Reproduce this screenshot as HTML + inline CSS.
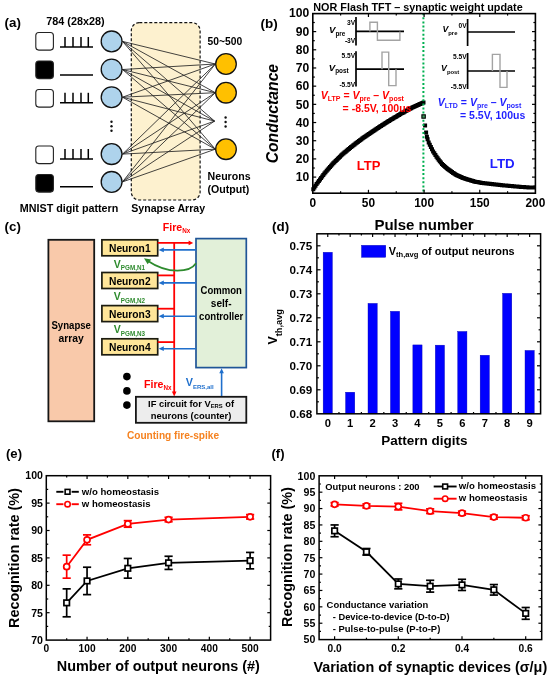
<!DOCTYPE html>
<html><head><meta charset="utf-8"><title>Figure</title>
<style>
html,body{margin:0;padding:0;background:#fff;}
svg{display:block;font-family:"Liberation Sans", "DejaVu Sans", sans-serif;}
</style></head>
<body>
<svg width="550" height="681" viewBox="0 0 550 681">
<rect x="0" y="0" width="550" height="681" fill="#fff"/>
<text x="4.60" y="26.90" font-size="13.4" text-anchor="start" font-weight="bold" font-style="normal" fill="#000" >(a)</text>
<text x="46.30" y="25.00" font-size="10.8" text-anchor="start" font-weight="bold" font-style="normal" fill="#000" >784 (28x28)</text>
<rect x="35.80" y="32.50" width="17.60" height="17.60" fill="#fff" stroke="#222" stroke-width="1.1" rx="3" />
<rect x="35.80" y="61.00" width="17.60" height="17.60" fill="#000" stroke="#222" stroke-width="1.1" rx="3" />
<rect x="35.80" y="89.50" width="17.60" height="17.60" fill="#fff" stroke="#222" stroke-width="1.1" rx="3" />
<rect x="35.80" y="146.00" width="17.60" height="17.60" fill="#fff" stroke="#222" stroke-width="1.1" rx="3" />
<rect x="35.80" y="174.50" width="17.60" height="17.60" fill="#000" stroke="#222" stroke-width="1.1" rx="3" />
<line x1="60.00" y1="47.00" x2="93.00" y2="47.00" stroke="#000" stroke-width="1.5" />
<line x1="65.00" y1="47.00" x2="65.00" y2="37.00" stroke="#000" stroke-width="1.5" />
<line x1="73.00" y1="47.00" x2="73.00" y2="37.00" stroke="#000" stroke-width="1.5" />
<line x1="81.00" y1="47.00" x2="81.00" y2="37.00" stroke="#000" stroke-width="1.5" />
<line x1="88.30" y1="47.00" x2="88.30" y2="37.00" stroke="#000" stroke-width="1.5" />
<line x1="60.00" y1="75.00" x2="93.00" y2="75.00" stroke="#000" stroke-width="1.5" />
<line x1="60.00" y1="102.80" x2="93.00" y2="102.80" stroke="#000" stroke-width="1.5" />
<line x1="65.00" y1="102.80" x2="65.00" y2="92.80" stroke="#000" stroke-width="1.5" />
<line x1="73.00" y1="102.80" x2="73.00" y2="92.80" stroke="#000" stroke-width="1.5" />
<line x1="81.00" y1="102.80" x2="81.00" y2="92.80" stroke="#000" stroke-width="1.5" />
<line x1="88.30" y1="102.80" x2="88.30" y2="92.80" stroke="#000" stroke-width="1.5" />
<line x1="60.00" y1="159.00" x2="93.00" y2="159.00" stroke="#000" stroke-width="1.5" />
<line x1="65.00" y1="159.00" x2="65.00" y2="149.00" stroke="#000" stroke-width="1.5" />
<line x1="73.00" y1="159.00" x2="73.00" y2="149.00" stroke="#000" stroke-width="1.5" />
<line x1="81.00" y1="159.00" x2="81.00" y2="149.00" stroke="#000" stroke-width="1.5" />
<line x1="88.30" y1="159.00" x2="88.30" y2="149.00" stroke="#000" stroke-width="1.5" />
<line x1="60.00" y1="186.80" x2="93.00" y2="186.80" stroke="#000" stroke-width="1.5" />
<rect x="131.30" y="22.70" width="68.80" height="177.30" fill="#FDF1CF" stroke="#111" stroke-width="1.2" rx="8" stroke-dasharray="3 2"/>
<line x1="122.50" y1="41.40" x2="215.30" y2="64.00" stroke="#222" stroke-width="0.85" />
<line x1="122.50" y1="41.40" x2="215.30" y2="92.70" stroke="#222" stroke-width="0.85" />
<line x1="122.50" y1="41.40" x2="214.60" y2="121.10" stroke="#222" stroke-width="0.85" />
<line x1="122.50" y1="41.40" x2="215.30" y2="149.20" stroke="#222" stroke-width="0.85" />
<line x1="122.50" y1="69.50" x2="215.30" y2="64.00" stroke="#222" stroke-width="0.85" />
<line x1="122.50" y1="69.50" x2="215.30" y2="92.70" stroke="#222" stroke-width="0.85" />
<line x1="122.50" y1="69.50" x2="214.60" y2="121.10" stroke="#222" stroke-width="0.85" />
<line x1="122.50" y1="69.50" x2="215.30" y2="149.20" stroke="#222" stroke-width="0.85" />
<line x1="122.50" y1="97.20" x2="215.30" y2="64.00" stroke="#222" stroke-width="0.85" />
<line x1="122.50" y1="97.20" x2="215.30" y2="92.70" stroke="#222" stroke-width="0.85" />
<line x1="122.50" y1="97.20" x2="214.60" y2="121.10" stroke="#222" stroke-width="0.85" />
<line x1="122.50" y1="97.20" x2="215.30" y2="149.20" stroke="#222" stroke-width="0.85" />
<line x1="122.50" y1="154.10" x2="215.30" y2="64.00" stroke="#222" stroke-width="0.85" />
<line x1="122.50" y1="154.10" x2="215.30" y2="92.70" stroke="#222" stroke-width="0.85" />
<line x1="122.50" y1="154.10" x2="214.60" y2="121.10" stroke="#222" stroke-width="0.85" />
<line x1="122.50" y1="154.10" x2="215.30" y2="149.20" stroke="#222" stroke-width="0.85" />
<line x1="122.50" y1="181.90" x2="215.30" y2="64.00" stroke="#222" stroke-width="0.85" />
<line x1="122.50" y1="181.90" x2="215.30" y2="92.70" stroke="#222" stroke-width="0.85" />
<line x1="122.50" y1="181.90" x2="214.60" y2="121.10" stroke="#222" stroke-width="0.85" />
<line x1="122.50" y1="181.90" x2="215.30" y2="149.20" stroke="#222" stroke-width="0.85" />
<circle cx="111.60" cy="41.40" r="10.40" fill="#AED3EC" stroke="#111" stroke-width="1.3"/>
<circle cx="111.60" cy="69.50" r="10.40" fill="#AED3EC" stroke="#111" stroke-width="1.3"/>
<circle cx="111.60" cy="97.20" r="10.40" fill="#AED3EC" stroke="#111" stroke-width="1.3"/>
<circle cx="111.60" cy="154.10" r="10.40" fill="#AED3EC" stroke="#111" stroke-width="1.3"/>
<circle cx="111.60" cy="181.90" r="10.40" fill="#AED3EC" stroke="#111" stroke-width="1.3"/>
<circle cx="226.00" cy="64.00" r="10.30" fill="#FFC000" stroke="#111" stroke-width="1.3"/>
<circle cx="226.00" cy="92.70" r="10.30" fill="#FFC000" stroke="#111" stroke-width="1.3"/>
<circle cx="226.00" cy="149.20" r="10.30" fill="#FFC000" stroke="#111" stroke-width="1.3"/>
<circle cx="111.50" cy="121.70" r="1.20" fill="#111" stroke="none" stroke-width="1"/>
<circle cx="111.50" cy="126.20" r="1.20" fill="#111" stroke="none" stroke-width="1"/>
<circle cx="111.50" cy="130.70" r="1.20" fill="#111" stroke="none" stroke-width="1"/>
<circle cx="225.60" cy="117.50" r="1.20" fill="#111" stroke="none" stroke-width="1"/>
<circle cx="225.60" cy="122.00" r="1.20" fill="#111" stroke="none" stroke-width="1"/>
<circle cx="225.60" cy="126.50" r="1.20" fill="#111" stroke="none" stroke-width="1"/>
<text x="207.50" y="44.50" font-size="10.3" text-anchor="start" font-weight="bold" font-style="normal" fill="#000" >50~500</text>
<text x="207.60" y="179.60" font-size="10.6" text-anchor="start" font-weight="bold" font-style="normal" fill="#000" >Neurons</text>
<text x="207.60" y="193.20" font-size="10.6" text-anchor="start" font-weight="bold" font-style="normal" fill="#000" >(Output)</text>
<text x="19.80" y="212.30" font-size="10.75" text-anchor="start" font-weight="bold" font-style="normal" fill="#000" >MNIST digit pattern</text>
<text x="131.30" y="212.30" font-size="10.6" text-anchor="start" font-weight="bold" font-style="normal" fill="#000" >Synapse Array</text>
<text x="260.50" y="27.70" font-size="13.5" text-anchor="start" font-weight="bold" font-style="normal" fill="#000" >(b)</text>
<text x="313.30" y="10.70" font-size="10.8" text-anchor="start" font-weight="bold" font-style="normal" fill="#000" >NOR Flash TFT – synaptic weight update</text>
<text transform="translate(278.4,113.6) rotate(-90)" font-size="15.7" text-anchor="middle" font-weight="bold" font-style="italic">Conductance</text>
<text x="309.30" y="181.40" font-size="12.1" text-anchor="end" font-weight="bold" font-style="normal" fill="#000" >10</text>
<text x="309.30" y="163.21" font-size="12.1" text-anchor="end" font-weight="bold" font-style="normal" fill="#000" >20</text>
<text x="309.30" y="145.03" font-size="12.1" text-anchor="end" font-weight="bold" font-style="normal" fill="#000" >30</text>
<text x="309.30" y="126.84" font-size="12.1" text-anchor="end" font-weight="bold" font-style="normal" fill="#000" >40</text>
<text x="309.30" y="108.65" font-size="12.1" text-anchor="end" font-weight="bold" font-style="normal" fill="#000" >50</text>
<text x="309.30" y="90.46" font-size="12.1" text-anchor="end" font-weight="bold" font-style="normal" fill="#000" >60</text>
<text x="309.30" y="72.27" font-size="12.1" text-anchor="end" font-weight="bold" font-style="normal" fill="#000" >70</text>
<text x="309.30" y="54.09" font-size="12.1" text-anchor="end" font-weight="bold" font-style="normal" fill="#000" >80</text>
<text x="309.30" y="35.90" font-size="12.1" text-anchor="end" font-weight="bold" font-style="normal" fill="#000" >90</text>
<text x="309.30" y="16.71" font-size="12.1" text-anchor="end" font-weight="bold" font-style="normal" fill="#000" >100</text>
<text x="312.80" y="206.60" font-size="11.9" text-anchor="middle" font-weight="bold" font-style="normal" fill="#000" >0</text>
<text x="368.45" y="206.60" font-size="11.9" text-anchor="middle" font-weight="bold" font-style="normal" fill="#000" >50</text>
<text x="424.10" y="206.60" font-size="11.9" text-anchor="middle" font-weight="bold" font-style="normal" fill="#000" >100</text>
<text x="479.75" y="206.60" font-size="11.9" text-anchor="middle" font-weight="bold" font-style="normal" fill="#000" >150</text>
<text x="535.40" y="206.60" font-size="11.9" text-anchor="middle" font-weight="bold" font-style="normal" fill="#000" >200</text>
<text x="424.00" y="229.80" font-size="15" text-anchor="middle" font-weight="bold" font-style="normal" fill="#000" >Pulse number</text>
<path d="M311.3,187.2h4.0v4.0h-4.0zM312.4,185.5h4.0v4.0h-4.0zM313.5,183.8h4.0v4.0h-4.0zM314.6,182.1h4.0v4.0h-4.0zM315.8,180.5h4.0v4.0h-4.0zM316.9,178.9h4.0v4.0h-4.0zM318.0,177.4h4.0v4.0h-4.0zM319.1,175.9h4.0v4.0h-4.0zM320.2,174.4h4.0v4.0h-4.0zM321.3,173.0h4.0v4.0h-4.0zM322.4,171.6h4.0v4.0h-4.0zM323.5,170.2h4.0v4.0h-4.0zM324.7,168.8h4.0v4.0h-4.0zM325.8,167.5h4.0v4.0h-4.0zM326.9,166.2h4.0v4.0h-4.0zM328.0,165.0h4.0v4.0h-4.0zM329.1,163.7h4.0v4.0h-4.0zM330.2,162.5h4.0v4.0h-4.0zM331.3,161.3h4.0v4.0h-4.0zM332.4,160.2h4.0v4.0h-4.0zM333.6,159.0h4.0v4.0h-4.0zM334.7,157.9h4.0v4.0h-4.0zM335.8,156.8h4.0v4.0h-4.0zM336.9,155.7h4.0v4.0h-4.0zM338.0,154.7h4.0v4.0h-4.0zM339.1,153.6h4.0v4.0h-4.0zM340.2,152.6h4.0v4.0h-4.0zM341.4,151.6h4.0v4.0h-4.0zM342.5,150.6h4.0v4.0h-4.0zM343.6,149.7h4.0v4.0h-4.0zM344.7,148.7h4.0v4.0h-4.0zM345.8,147.8h4.0v4.0h-4.0zM346.9,146.9h4.0v4.0h-4.0zM348.0,145.9h4.0v4.0h-4.0zM349.1,145.0h4.0v4.0h-4.0zM350.3,144.2h4.0v4.0h-4.0zM351.4,143.3h4.0v4.0h-4.0zM352.5,142.4h4.0v4.0h-4.0zM353.6,141.6h4.0v4.0h-4.0zM354.7,140.7h4.0v4.0h-4.0zM355.8,139.9h4.0v4.0h-4.0zM356.9,139.1h4.0v4.0h-4.0zM358.0,138.2h4.0v4.0h-4.0zM359.2,137.4h4.0v4.0h-4.0zM360.3,136.6h4.0v4.0h-4.0zM361.4,135.8h4.0v4.0h-4.0zM362.5,135.0h4.0v4.0h-4.0zM363.6,134.3h4.0v4.0h-4.0zM364.7,133.5h4.0v4.0h-4.0zM365.8,132.7h4.0v4.0h-4.0zM366.9,131.9h4.0v4.0h-4.0zM368.1,131.2h4.0v4.0h-4.0zM369.2,130.4h4.0v4.0h-4.0zM370.3,129.7h4.0v4.0h-4.0zM371.4,128.9h4.0v4.0h-4.0zM372.5,128.2h4.0v4.0h-4.0zM373.6,127.5h4.0v4.0h-4.0zM374.7,126.7h4.0v4.0h-4.0zM375.9,126.0h4.0v4.0h-4.0zM377.0,125.3h4.0v4.0h-4.0zM378.1,124.6h4.0v4.0h-4.0zM379.2,123.9h4.0v4.0h-4.0zM380.3,123.1h4.0v4.0h-4.0zM381.4,122.4h4.0v4.0h-4.0zM382.5,121.7h4.0v4.0h-4.0zM383.6,121.0h4.0v4.0h-4.0zM384.8,120.3h4.0v4.0h-4.0zM385.9,119.6h4.0v4.0h-4.0zM387.0,118.9h4.0v4.0h-4.0zM388.1,118.3h4.0v4.0h-4.0zM389.2,117.6h4.0v4.0h-4.0zM390.3,116.9h4.0v4.0h-4.0zM391.4,116.2h4.0v4.0h-4.0zM392.5,115.6h4.0v4.0h-4.0zM393.7,114.9h4.0v4.0h-4.0zM394.8,114.2h4.0v4.0h-4.0zM395.9,113.6h4.0v4.0h-4.0zM397.0,112.9h4.0v4.0h-4.0zM398.1,112.3h4.0v4.0h-4.0zM399.2,111.6h4.0v4.0h-4.0zM400.3,111.0h4.0v4.0h-4.0zM401.5,110.4h4.0v4.0h-4.0zM402.6,109.8h4.0v4.0h-4.0zM403.7,109.1h4.0v4.0h-4.0zM404.8,108.5h4.0v4.0h-4.0zM405.9,107.9h4.0v4.0h-4.0zM407.0,107.3h4.0v4.0h-4.0zM408.1,106.8h4.0v4.0h-4.0zM409.2,106.2h4.0v4.0h-4.0zM410.4,105.6h4.0v4.0h-4.0zM411.5,105.1h4.0v4.0h-4.0zM412.6,104.5h4.0v4.0h-4.0zM413.7,104.0h4.0v4.0h-4.0zM414.8,103.5h4.0v4.0h-4.0zM415.9,103.0h4.0v4.0h-4.0zM417.0,102.5h4.0v4.0h-4.0zM418.1,102.0h4.0v4.0h-4.0zM419.3,101.5h4.0v4.0h-4.0zM420.4,101.1h4.0v4.0h-4.0zM421.5,100.6h4.0v4.0h-4.0zM423.1,123.6h4.0v4.0h-4.0zM424.1,130.5h4.0v4.0h-4.0zM424.9,134.7h4.0v4.0h-4.0zM425.6,137.3h4.0v4.0h-4.0zM426.7,140.4h4.0v4.0h-4.0zM427.8,142.8h4.0v4.0h-4.0zM428.9,145.0h4.0v4.0h-4.0zM430.0,147.3h4.0v4.0h-4.0zM431.1,149.4h4.0v4.0h-4.0zM432.3,151.3h4.0v4.0h-4.0zM433.4,153.1h4.0v4.0h-4.0zM434.5,154.7h4.0v4.0h-4.0zM435.6,156.3h4.0v4.0h-4.0zM436.7,157.8h4.0v4.0h-4.0zM437.8,159.2h4.0v4.0h-4.0zM438.9,160.6h4.0v4.0h-4.0zM440.0,161.9h4.0v4.0h-4.0zM441.1,163.0h4.0v4.0h-4.0zM442.2,164.1h4.0v4.0h-4.0zM443.3,165.1h4.0v4.0h-4.0zM444.5,166.0h4.0v4.0h-4.0zM445.6,166.9h4.0v4.0h-4.0zM446.7,167.7h4.0v4.0h-4.0zM447.8,168.5h4.0v4.0h-4.0zM448.9,169.3h4.0v4.0h-4.0zM450.0,170.1h4.0v4.0h-4.0zM451.1,170.9h4.0v4.0h-4.0zM452.2,171.6h4.0v4.0h-4.0zM453.3,172.3h4.0v4.0h-4.0zM454.4,172.9h4.0v4.0h-4.0zM455.5,173.5h4.0v4.0h-4.0zM456.7,174.0h4.0v4.0h-4.0zM457.8,174.6h4.0v4.0h-4.0zM458.9,175.1h4.0v4.0h-4.0zM460.0,175.5h4.0v4.0h-4.0zM461.1,175.9h4.0v4.0h-4.0zM462.2,176.3h4.0v4.0h-4.0zM463.3,176.7h4.0v4.0h-4.0zM464.4,177.0h4.0v4.0h-4.0zM465.5,177.4h4.0v4.0h-4.0zM466.6,177.7h4.0v4.0h-4.0zM467.7,178.1h4.0v4.0h-4.0zM468.9,178.5h4.0v4.0h-4.0zM470.0,178.8h4.0v4.0h-4.0zM471.1,179.1h4.0v4.0h-4.0zM472.2,179.4h4.0v4.0h-4.0zM473.3,179.7h4.0v4.0h-4.0zM474.4,179.9h4.0v4.0h-4.0zM475.5,180.1h4.0v4.0h-4.0zM476.6,180.3h4.0v4.0h-4.0zM477.7,180.5h4.0v4.0h-4.0zM478.8,180.7h4.0v4.0h-4.0zM479.9,180.9h4.0v4.0h-4.0zM481.0,181.0h4.0v4.0h-4.0zM482.2,181.2h4.0v4.0h-4.0zM483.3,181.3h4.0v4.0h-4.0zM484.4,181.4h4.0v4.0h-4.0zM485.5,181.6h4.0v4.0h-4.0zM486.6,181.7h4.0v4.0h-4.0zM487.7,181.8h4.0v4.0h-4.0zM488.8,182.0h4.0v4.0h-4.0zM489.9,182.1h4.0v4.0h-4.0zM491.0,182.2h4.0v4.0h-4.0zM492.1,182.3h4.0v4.0h-4.0zM493.2,182.5h4.0v4.0h-4.0zM494.4,182.6h4.0v4.0h-4.0zM495.5,182.7h4.0v4.0h-4.0zM496.6,182.8h4.0v4.0h-4.0zM497.7,183.0h4.0v4.0h-4.0zM498.8,183.1h4.0v4.0h-4.0zM499.9,183.2h4.0v4.0h-4.0zM501.0,183.3h4.0v4.0h-4.0zM502.1,183.4h4.0v4.0h-4.0zM503.2,183.5h4.0v4.0h-4.0zM504.3,183.6h4.0v4.0h-4.0zM505.4,183.7h4.0v4.0h-4.0zM506.6,183.8h4.0v4.0h-4.0zM507.7,184.0h4.0v4.0h-4.0zM508.8,184.1h4.0v4.0h-4.0zM509.9,184.1h4.0v4.0h-4.0zM511.0,184.2h4.0v4.0h-4.0zM512.1,184.3h4.0v4.0h-4.0zM513.2,184.4h4.0v4.0h-4.0zM514.3,184.5h4.0v4.0h-4.0zM515.4,184.6h4.0v4.0h-4.0zM516.5,184.7h4.0v4.0h-4.0zM517.6,184.8h4.0v4.0h-4.0zM518.8,184.9h4.0v4.0h-4.0zM519.9,184.9h4.0v4.0h-4.0zM521.0,185.0h4.0v4.0h-4.0zM522.1,185.1h4.0v4.0h-4.0zM523.2,185.2h4.0v4.0h-4.0zM524.3,185.2h4.0v4.0h-4.0zM525.4,185.3h4.0v4.0h-4.0zM526.5,185.4h4.0v4.0h-4.0zM527.6,185.4h4.0v4.0h-4.0zM528.7,185.5h4.0v4.0h-4.0zM529.8,185.6h4.0v4.0h-4.0zM531.0,185.6h4.0v4.0h-4.0z" fill="#000" stroke="none" stroke-width="1" />
<line x1="423.40" y1="13.60" x2="423.40" y2="193.00" stroke="#00B050" stroke-width="2" stroke-dasharray="2 2.1" stroke-dashoffset="0.4"/>
<rect x="421.90" y="114.80" width="3.40" height="3.40" fill="#3c9a5c" stroke="#000" stroke-width="1.1" rx="0" />
<rect x="312.80" y="13.60" width="222.60" height="179.60" fill="none" stroke="#000" stroke-width="1.6" rx="0" />
<line x1="368.45" y1="193.20" x2="368.45" y2="189.80" stroke="#000" stroke-width="1.2" />
<line x1="368.45" y1="13.60" x2="368.45" y2="17.00" stroke="#000" stroke-width="1.2" />
<line x1="424.10" y1="193.20" x2="424.10" y2="189.80" stroke="#000" stroke-width="1.2" />
<line x1="424.10" y1="13.60" x2="424.10" y2="17.00" stroke="#000" stroke-width="1.2" />
<line x1="479.75" y1="193.20" x2="479.75" y2="189.80" stroke="#000" stroke-width="1.2" />
<line x1="479.75" y1="13.60" x2="479.75" y2="17.00" stroke="#000" stroke-width="1.2" />
<line x1="340.62" y1="193.20" x2="340.62" y2="191.20" stroke="#000" stroke-width="1.2" />
<line x1="340.62" y1="13.60" x2="340.62" y2="15.60" stroke="#000" stroke-width="1.2" />
<line x1="396.27" y1="193.20" x2="396.27" y2="191.20" stroke="#000" stroke-width="1.2" />
<line x1="396.27" y1="13.60" x2="396.27" y2="15.60" stroke="#000" stroke-width="1.2" />
<line x1="451.92" y1="193.20" x2="451.92" y2="191.20" stroke="#000" stroke-width="1.2" />
<line x1="451.92" y1="13.60" x2="451.92" y2="15.60" stroke="#000" stroke-width="1.2" />
<line x1="507.57" y1="193.20" x2="507.57" y2="191.20" stroke="#000" stroke-width="1.2" />
<line x1="507.57" y1="13.60" x2="507.57" y2="15.60" stroke="#000" stroke-width="1.2" />
<line x1="312.80" y1="177.10" x2="316.20" y2="177.10" stroke="#000" stroke-width="1.2" />
<line x1="535.40" y1="177.10" x2="532.00" y2="177.10" stroke="#000" stroke-width="1.2" />
<line x1="312.80" y1="158.91" x2="316.20" y2="158.91" stroke="#000" stroke-width="1.2" />
<line x1="535.40" y1="158.91" x2="532.00" y2="158.91" stroke="#000" stroke-width="1.2" />
<line x1="312.80" y1="140.72" x2="316.20" y2="140.72" stroke="#000" stroke-width="1.2" />
<line x1="535.40" y1="140.72" x2="532.00" y2="140.72" stroke="#000" stroke-width="1.2" />
<line x1="312.80" y1="122.54" x2="316.20" y2="122.54" stroke="#000" stroke-width="1.2" />
<line x1="535.40" y1="122.54" x2="532.00" y2="122.54" stroke="#000" stroke-width="1.2" />
<line x1="312.80" y1="104.35" x2="316.20" y2="104.35" stroke="#000" stroke-width="1.2" />
<line x1="535.40" y1="104.35" x2="532.00" y2="104.35" stroke="#000" stroke-width="1.2" />
<line x1="312.80" y1="86.16" x2="316.20" y2="86.16" stroke="#000" stroke-width="1.2" />
<line x1="535.40" y1="86.16" x2="532.00" y2="86.16" stroke="#000" stroke-width="1.2" />
<line x1="312.80" y1="67.97" x2="316.20" y2="67.97" stroke="#000" stroke-width="1.2" />
<line x1="535.40" y1="67.97" x2="532.00" y2="67.97" stroke="#000" stroke-width="1.2" />
<line x1="312.80" y1="49.79" x2="316.20" y2="49.79" stroke="#000" stroke-width="1.2" />
<line x1="535.40" y1="49.79" x2="532.00" y2="49.79" stroke="#000" stroke-width="1.2" />
<line x1="312.80" y1="31.60" x2="316.20" y2="31.60" stroke="#000" stroke-width="1.2" />
<line x1="535.40" y1="31.60" x2="532.00" y2="31.60" stroke="#000" stroke-width="1.2" />
<line x1="312.80" y1="186.19" x2="314.80" y2="186.19" stroke="#000" stroke-width="1.2" />
<line x1="535.40" y1="186.19" x2="533.40" y2="186.19" stroke="#000" stroke-width="1.2" />
<line x1="312.80" y1="168.01" x2="314.80" y2="168.01" stroke="#000" stroke-width="1.2" />
<line x1="535.40" y1="168.01" x2="533.40" y2="168.01" stroke="#000" stroke-width="1.2" />
<line x1="312.80" y1="149.82" x2="314.80" y2="149.82" stroke="#000" stroke-width="1.2" />
<line x1="535.40" y1="149.82" x2="533.40" y2="149.82" stroke="#000" stroke-width="1.2" />
<line x1="312.80" y1="131.63" x2="314.80" y2="131.63" stroke="#000" stroke-width="1.2" />
<line x1="535.40" y1="131.63" x2="533.40" y2="131.63" stroke="#000" stroke-width="1.2" />
<line x1="312.80" y1="113.44" x2="314.80" y2="113.44" stroke="#000" stroke-width="1.2" />
<line x1="535.40" y1="113.44" x2="533.40" y2="113.44" stroke="#000" stroke-width="1.2" />
<line x1="312.80" y1="95.26" x2="314.80" y2="95.26" stroke="#000" stroke-width="1.2" />
<line x1="535.40" y1="95.26" x2="533.40" y2="95.26" stroke="#000" stroke-width="1.2" />
<line x1="312.80" y1="77.07" x2="314.80" y2="77.07" stroke="#000" stroke-width="1.2" />
<line x1="535.40" y1="77.07" x2="533.40" y2="77.07" stroke="#000" stroke-width="1.2" />
<line x1="312.80" y1="58.88" x2="314.80" y2="58.88" stroke="#000" stroke-width="1.2" />
<line x1="535.40" y1="58.88" x2="533.40" y2="58.88" stroke="#000" stroke-width="1.2" />
<line x1="312.80" y1="40.69" x2="314.80" y2="40.69" stroke="#000" stroke-width="1.2" />
<line x1="535.40" y1="40.69" x2="533.40" y2="40.69" stroke="#000" stroke-width="1.2" />
<line x1="312.80" y1="22.51" x2="314.80" y2="22.51" stroke="#000" stroke-width="1.2" />
<line x1="535.40" y1="22.51" x2="533.40" y2="22.51" stroke="#000" stroke-width="1.2" />
<line x1="356.00" y1="17.00" x2="356.00" y2="45.50" stroke="#000" stroke-width="1.7" />
<line x1="356.00" y1="31.40" x2="404.00" y2="31.40" stroke="#000" stroke-width="1.7" />
<path d="M369.9,31.4 V22.3 H377.4 V40.2 H399.9 V31.4" fill="none" stroke="#a3a3a3" stroke-width="1.4" />
<text x="355.20" y="25.20" font-size="6.6" text-anchor="end" font-weight="bold" font-style="normal" fill="#000" >3V</text>
<text x="355.20" y="43.00" font-size="6.6" text-anchor="end" font-weight="bold" font-style="normal" fill="#000" >-3V</text>
<text x="329" y="33" font-size="9.6" font-weight="bold"><tspan font-style="italic">V</tspan><tspan font-size="6.4" dy="2.5">pre</tspan></text>
<line x1="356.00" y1="51.30" x2="356.00" y2="86.60" stroke="#000" stroke-width="1.7" />
<line x1="356.00" y1="69.20" x2="404.00" y2="69.20" stroke="#000" stroke-width="1.7" />
<path d="M382,69.2 V52.1 H388.7 V85.6 H396 V69.2" fill="none" stroke="#a3a3a3" stroke-width="1.4" />
<text x="355.20" y="57.60" font-size="6.6" text-anchor="end" font-weight="bold" font-style="normal" fill="#000" >5.5V</text>
<text x="355.20" y="87.20" font-size="6.6" text-anchor="end" font-weight="bold" font-style="normal" fill="#000" >-5.5V</text>
<text x="328.8" y="70.7" font-size="9.6" font-weight="bold"><tspan font-style="italic">V</tspan><tspan font-size="6.4" dy="2.5">post</tspan></text>
<line x1="467.60" y1="19.00" x2="467.60" y2="46.00" stroke="#000" stroke-width="1.7" />
<line x1="467.60" y1="32.00" x2="515.00" y2="32.00" stroke="#000" stroke-width="1.7" />
<text x="466.60" y="28.20" font-size="6.6" text-anchor="end" font-weight="bold" font-style="normal" fill="#000" >0V</text>
<text x="442.4" y="32" font-size="8.8" font-weight="bold"><tspan font-style="italic">V</tspan><tspan font-size="5.9" dy="2.5">pre</tspan></text>
<line x1="467.60" y1="53.00" x2="467.60" y2="89.00" stroke="#000" stroke-width="1.7" />
<line x1="467.60" y1="71.00" x2="515.00" y2="71.00" stroke="#000" stroke-width="1.7" />
<path d="M492.4,71 V54.4 H500 V87.4 H507 V71" fill="none" stroke="#a3a3a3" stroke-width="1.4" />
<text x="466.60" y="58.50" font-size="6.6" text-anchor="end" font-weight="bold" font-style="normal" fill="#000" >5.5V</text>
<text x="466.60" y="88.70" font-size="6.6" text-anchor="end" font-weight="bold" font-style="normal" fill="#000" >-5.5V</text>
<text x="441" y="71" font-size="8.8" font-weight="bold"><tspan font-style="italic">V</tspan><tspan font-size="5.9" dy="2.5">post</tspan></text>
<text x="320.8" y="99.2" font-size="10.5" font-weight="bold" fill="#FF0000"><tspan font-style="italic">V</tspan><tspan font-size="7" dy="2">LTP</tspan><tspan dy="-2"> = </tspan><tspan font-style="italic">V</tspan><tspan font-size="7" dy="2">pre</tspan><tspan dy="-2"> – </tspan><tspan font-style="italic">V</tspan><tspan font-size="7" dy="2">post</tspan></text>
<text x="342.60" y="112.20" font-size="10.5" text-anchor="start" font-weight="bold" font-style="normal" fill="#FF0000" >= -8.5V, 100us</text>
<text x="437.8" y="106.2" font-size="10.5" font-weight="bold" fill="#1F1FFF"><tspan font-style="italic">V</tspan><tspan font-size="7" dy="2">LTD</tspan><tspan dy="-2"> = </tspan><tspan font-style="italic">V</tspan><tspan font-size="7" dy="2">pre</tspan><tspan dy="-2"> – </tspan><tspan font-style="italic">V</tspan><tspan font-size="7" dy="2">post</tspan></text>
<text x="460.00" y="119.00" font-size="10.5" text-anchor="start" font-weight="bold" font-style="normal" fill="#1F1FFF" >= 5.5V, 100us</text>
<text x="356.80" y="169.70" font-size="13" text-anchor="start" font-weight="bold" font-style="normal" fill="#FF0000" >LTP</text>
<text x="489.80" y="167.50" font-size="13.3" text-anchor="start" font-weight="bold" font-style="normal" fill="#1F1FFF" >LTD</text>
<text x="4.60" y="231.40" font-size="13.3" text-anchor="start" font-weight="bold" font-style="normal" fill="#000" >(c)</text>
<rect x="48.40" y="239.80" width="45.80" height="181.50" fill="#F9C9AA" stroke="#161616" stroke-width="1.8" rx="0" />
<text x="71.20" y="328.60" font-size="10.8" text-anchor="middle" font-weight="bold" font-style="normal" fill="#000" textLength="39.5" lengthAdjust="spacingAndGlyphs">Synapse</text>
<text x="71.20" y="342.20" font-size="10.8" text-anchor="middle" font-weight="bold" font-style="normal" fill="#000" textLength="25.3" lengthAdjust="spacingAndGlyphs">array</text>
<rect x="101.90" y="239.80" width="55.80" height="16.00" fill="#FFE699" stroke="#1c1c10" stroke-width="1.7" rx="0" />
<text x="129.80" y="252.20" font-size="10.1" text-anchor="middle" font-weight="bold" font-style="normal" fill="#000" textLength="41.6" lengthAdjust="spacingAndGlyphs">Neuron1</text>
<rect x="101.90" y="272.50" width="55.80" height="16.00" fill="#FFE699" stroke="#1c1c10" stroke-width="1.7" rx="0" />
<text x="129.80" y="284.90" font-size="10.1" text-anchor="middle" font-weight="bold" font-style="normal" fill="#000" textLength="41.6" lengthAdjust="spacingAndGlyphs">Neuron2</text>
<rect x="101.90" y="305.60" width="55.80" height="16.00" fill="#FFE699" stroke="#1c1c10" stroke-width="1.7" rx="0" />
<text x="129.80" y="318.00" font-size="10.1" text-anchor="middle" font-weight="bold" font-style="normal" fill="#000" textLength="41.6" lengthAdjust="spacingAndGlyphs">Neuron3</text>
<rect x="101.90" y="338.80" width="55.80" height="16.00" fill="#FFE699" stroke="#1c1c10" stroke-width="1.7" rx="0" />
<text x="129.80" y="351.20" font-size="10.1" text-anchor="middle" font-weight="bold" font-style="normal" fill="#000" textLength="41.6" lengthAdjust="spacingAndGlyphs">Neuron4</text>
<text x="113.8" y="267.6" font-size="10.5" font-weight="bold" fill="#2E8B2E">V<tspan font-size="6.3" dy="2.3">PGM,N1</tspan></text>
<text x="113.8" y="300.3" font-size="10.5" font-weight="bold" fill="#2E8B2E">V<tspan font-size="6.3" dy="2.3">PGM,N2</tspan></text>
<text x="113.8" y="333.2" font-size="10.5" font-weight="bold" fill="#2E8B2E">V<tspan font-size="6.3" dy="2.3">PGM,N3</tspan></text>
<rect x="196.00" y="238.60" width="50.30" height="129.00" fill="#E2F0D9" stroke="#1F5597" stroke-width="1.7" rx="0" />
<text x="221.20" y="294.10" font-size="10.1" text-anchor="middle" font-weight="bold" font-style="normal" fill="#000" textLength="41.4" lengthAdjust="spacingAndGlyphs">Common</text>
<text x="221.20" y="307.10" font-size="10.1" text-anchor="middle" font-weight="bold" font-style="normal" fill="#000" textLength="20.8" lengthAdjust="spacingAndGlyphs">self-</text>
<text x="221.20" y="319.60" font-size="10.1" text-anchor="middle" font-weight="bold" font-style="normal" fill="#000" textLength="44.2" lengthAdjust="spacingAndGlyphs">controller</text>
<line x1="157.70" y1="242.90" x2="189.50" y2="242.90" stroke="#FF0000" stroke-width="1.8" />
<path d="M193.2,242.9 L188.6,240.6 L188.6,245.2 Z" fill="#FF0000" stroke="none" stroke-width="1" />
<line x1="174.20" y1="242.00" x2="174.20" y2="392.50" stroke="#FF0000" stroke-width="1.8" />
<path d="M174.2,396.6 L171.9,391.6 L176.5,391.6 Z" fill="#FF0000" stroke="none" stroke-width="1" />
<line x1="157.70" y1="275.40" x2="174.20" y2="275.40" stroke="#FF0000" stroke-width="1.8" />
<line x1="157.70" y1="308.70" x2="174.20" y2="308.70" stroke="#FF0000" stroke-width="1.8" />
<line x1="157.70" y1="342.10" x2="174.20" y2="342.10" stroke="#FF0000" stroke-width="1.8" />
<line x1="162.50" y1="249.90" x2="196.00" y2="249.90" stroke="#1F6FCC" stroke-width="1.6" />
<path d="M158.6,249.9 L163.8,247.5 L163.8,252.3 Z" fill="#1F6FCC" stroke="none" stroke-width="1" />
<line x1="162.50" y1="282.90" x2="196.00" y2="282.90" stroke="#1F6FCC" stroke-width="1.6" />
<path d="M158.6,282.9 L163.8,280.5 L163.8,285.29999999999995 Z" fill="#1F6FCC" stroke="none" stroke-width="1" />
<line x1="162.50" y1="316.20" x2="196.00" y2="316.20" stroke="#1F6FCC" stroke-width="1.6" />
<path d="M158.6,316.2 L163.8,313.8 L163.8,318.59999999999997 Z" fill="#1F6FCC" stroke="none" stroke-width="1" />
<line x1="162.50" y1="348.70" x2="196.00" y2="348.70" stroke="#1F6FCC" stroke-width="1.6" />
<path d="M158.6,348.7 L163.8,346.3 L163.8,351.09999999999997 Z" fill="#1F6FCC" stroke="none" stroke-width="1" />
<path d="M196,263.2 C190,272.5 168,274.5 148,261" fill="none" stroke="#2E8B2E" stroke-width="1.7" />
<path d="M144,258.3 L151.2,259.6 L147.6,264.2 Z" fill="#2E8B2E" stroke="none" stroke-width="1" />
<text x="162.8" y="231" font-size="10.6" font-weight="bold" fill="#FF0000">Fire<tspan font-size="6.3" dy="2.3">Nx</tspan></text>
<text x="144" y="388" font-size="10.6" font-weight="bold" fill="#FF0000">Fire<tspan font-size="6.3" dy="2.3">Nx</tspan></text>
<text x="185.8" y="386.3" font-size="10.8" font-weight="bold" fill="#1F6FCC">V<tspan font-size="6" dy="2.3">ERS,all</tspan></text>
<line x1="221.60" y1="396.80" x2="221.60" y2="372.00" stroke="#1F6FCC" stroke-width="1.6" />
<path d="M221.6,368.2 L219.3,373.2 L223.9,373.2 Z" fill="#1F6FCC" stroke="none" stroke-width="1" />
<circle cx="126.90" cy="376.60" r="3.80" fill="#000" stroke="none" stroke-width="1"/>
<circle cx="126.90" cy="390.90" r="3.80" fill="#000" stroke="none" stroke-width="1"/>
<circle cx="126.90" cy="405.10" r="3.80" fill="#000" stroke="none" stroke-width="1"/>
<rect x="135.90" y="396.80" width="110.40" height="26.00" fill="#EDEDED" stroke="#161616" stroke-width="1.8" rx="0" />
<text x="191.1" y="406.5" font-size="9.6" font-weight="bold" text-anchor="middle" textLength="86" lengthAdjust="spacingAndGlyphs">IF circuit for V<tspan font-size="6" dy="1.8">ERS</tspan><tspan dy="-1.8"> of</tspan></text>
<text x="191.10" y="419.20" font-size="9.6" text-anchor="middle" font-weight="bold" font-style="normal" fill="#000" textLength="80.5" lengthAdjust="spacingAndGlyphs">neurons (counter)</text>
<text x="126.90" y="439.00" font-size="10.2" text-anchor="start" font-weight="bold" font-style="normal" fill="#F58220" textLength="92.2" lengthAdjust="spacingAndGlyphs">Counting fire-spike</text>
<text x="272.00" y="231.40" font-size="13.4" text-anchor="start" font-weight="bold" font-style="normal" fill="#000" >(d)</text>
<rect x="323.15" y="252.28" width="9.20" height="161.52" fill="#0000FF" stroke="#0000B0" stroke-width="0.4" rx="0" />
<text x="327.75" y="427.20" font-size="11.2" text-anchor="middle" font-weight="bold" font-style="normal" fill="#000" >0</text>
<rect x="345.58" y="392.20" width="9.20" height="21.60" fill="#0000FF" stroke="#0000B0" stroke-width="0.4" rx="0" />
<text x="350.18" y="427.20" font-size="11.2" text-anchor="middle" font-weight="bold" font-style="normal" fill="#000" >1</text>
<rect x="368.01" y="303.40" width="9.20" height="110.40" fill="#0000FF" stroke="#0000B0" stroke-width="0.4" rx="0" />
<text x="372.61" y="427.20" font-size="11.2" text-anchor="middle" font-weight="bold" font-style="normal" fill="#000" >2</text>
<rect x="390.44" y="311.32" width="9.20" height="102.48" fill="#0000FF" stroke="#0000B0" stroke-width="0.4" rx="0" />
<text x="395.04" y="427.20" font-size="11.2" text-anchor="middle" font-weight="bold" font-style="normal" fill="#000" >3</text>
<rect x="412.87" y="344.92" width="9.20" height="68.88" fill="#0000FF" stroke="#0000B0" stroke-width="0.4" rx="0" />
<text x="417.47" y="427.20" font-size="11.2" text-anchor="middle" font-weight="bold" font-style="normal" fill="#000" >4</text>
<rect x="435.30" y="345.16" width="9.20" height="68.64" fill="#0000FF" stroke="#0000B0" stroke-width="0.4" rx="0" />
<text x="439.90" y="427.20" font-size="11.2" text-anchor="middle" font-weight="bold" font-style="normal" fill="#000" >5</text>
<rect x="457.73" y="331.48" width="9.20" height="82.32" fill="#0000FF" stroke="#0000B0" stroke-width="0.4" rx="0" />
<text x="462.33" y="427.20" font-size="11.2" text-anchor="middle" font-weight="bold" font-style="normal" fill="#000" >6</text>
<rect x="480.16" y="355.24" width="9.20" height="58.56" fill="#0000FF" stroke="#0000B0" stroke-width="0.4" rx="0" />
<text x="484.76" y="427.20" font-size="11.2" text-anchor="middle" font-weight="bold" font-style="normal" fill="#000" >7</text>
<rect x="502.59" y="293.32" width="9.20" height="120.48" fill="#0000FF" stroke="#0000B0" stroke-width="0.4" rx="0" />
<text x="507.19" y="427.20" font-size="11.2" text-anchor="middle" font-weight="bold" font-style="normal" fill="#000" >8</text>
<rect x="525.02" y="350.44" width="9.20" height="63.36" fill="#0000FF" stroke="#0000B0" stroke-width="0.4" rx="0" />
<text x="529.62" y="427.20" font-size="11.2" text-anchor="middle" font-weight="bold" font-style="normal" fill="#000" >9</text>
<rect x="316.90" y="233.80" width="223.70" height="180.00" fill="none" stroke="#000" stroke-width="1.5" rx="0" />
<line x1="327.75" y1="233.80" x2="327.75" y2="237.00" stroke="#000" stroke-width="1.2" />
<line x1="338.96" y1="233.80" x2="338.96" y2="235.60" stroke="#000" stroke-width="1.2" />
<line x1="338.96" y1="413.80" x2="338.96" y2="412.00" stroke="#000" stroke-width="1.2" />
<line x1="350.18" y1="233.80" x2="350.18" y2="237.00" stroke="#000" stroke-width="1.2" />
<line x1="361.39" y1="233.80" x2="361.39" y2="235.60" stroke="#000" stroke-width="1.2" />
<line x1="361.39" y1="413.80" x2="361.39" y2="412.00" stroke="#000" stroke-width="1.2" />
<line x1="372.61" y1="233.80" x2="372.61" y2="237.00" stroke="#000" stroke-width="1.2" />
<line x1="383.82" y1="233.80" x2="383.82" y2="235.60" stroke="#000" stroke-width="1.2" />
<line x1="383.82" y1="413.80" x2="383.82" y2="412.00" stroke="#000" stroke-width="1.2" />
<line x1="395.04" y1="233.80" x2="395.04" y2="237.00" stroke="#000" stroke-width="1.2" />
<line x1="406.25" y1="233.80" x2="406.25" y2="235.60" stroke="#000" stroke-width="1.2" />
<line x1="406.25" y1="413.80" x2="406.25" y2="412.00" stroke="#000" stroke-width="1.2" />
<line x1="417.47" y1="233.80" x2="417.47" y2="237.00" stroke="#000" stroke-width="1.2" />
<line x1="428.69" y1="233.80" x2="428.69" y2="235.60" stroke="#000" stroke-width="1.2" />
<line x1="428.69" y1="413.80" x2="428.69" y2="412.00" stroke="#000" stroke-width="1.2" />
<line x1="439.90" y1="233.80" x2="439.90" y2="237.00" stroke="#000" stroke-width="1.2" />
<line x1="451.11" y1="233.80" x2="451.11" y2="235.60" stroke="#000" stroke-width="1.2" />
<line x1="451.11" y1="413.80" x2="451.11" y2="412.00" stroke="#000" stroke-width="1.2" />
<line x1="462.33" y1="233.80" x2="462.33" y2="237.00" stroke="#000" stroke-width="1.2" />
<line x1="473.54" y1="233.80" x2="473.54" y2="235.60" stroke="#000" stroke-width="1.2" />
<line x1="473.54" y1="413.80" x2="473.54" y2="412.00" stroke="#000" stroke-width="1.2" />
<line x1="484.76" y1="233.80" x2="484.76" y2="237.00" stroke="#000" stroke-width="1.2" />
<line x1="495.97" y1="233.80" x2="495.97" y2="235.60" stroke="#000" stroke-width="1.2" />
<line x1="495.97" y1="413.80" x2="495.97" y2="412.00" stroke="#000" stroke-width="1.2" />
<line x1="507.19" y1="233.80" x2="507.19" y2="237.00" stroke="#000" stroke-width="1.2" />
<line x1="518.40" y1="233.80" x2="518.40" y2="235.60" stroke="#000" stroke-width="1.2" />
<line x1="518.40" y1="413.80" x2="518.40" y2="412.00" stroke="#000" stroke-width="1.2" />
<line x1="529.62" y1="233.80" x2="529.62" y2="237.00" stroke="#000" stroke-width="1.2" />
<line x1="316.90" y1="389.80" x2="320.50" y2="389.80" stroke="#000" stroke-width="1.2" />
<line x1="540.60" y1="389.80" x2="537.00" y2="389.80" stroke="#000" stroke-width="1.2" />
<line x1="316.90" y1="365.80" x2="320.50" y2="365.80" stroke="#000" stroke-width="1.2" />
<line x1="540.60" y1="365.80" x2="537.00" y2="365.80" stroke="#000" stroke-width="1.2" />
<line x1="316.90" y1="341.80" x2="320.50" y2="341.80" stroke="#000" stroke-width="1.2" />
<line x1="540.60" y1="341.80" x2="537.00" y2="341.80" stroke="#000" stroke-width="1.2" />
<line x1="316.90" y1="317.80" x2="320.50" y2="317.80" stroke="#000" stroke-width="1.2" />
<line x1="540.60" y1="317.80" x2="537.00" y2="317.80" stroke="#000" stroke-width="1.2" />
<line x1="316.90" y1="293.80" x2="320.50" y2="293.80" stroke="#000" stroke-width="1.2" />
<line x1="540.60" y1="293.80" x2="537.00" y2="293.80" stroke="#000" stroke-width="1.2" />
<line x1="316.90" y1="269.80" x2="320.50" y2="269.80" stroke="#000" stroke-width="1.2" />
<line x1="540.60" y1="269.80" x2="537.00" y2="269.80" stroke="#000" stroke-width="1.2" />
<line x1="316.90" y1="245.80" x2="320.50" y2="245.80" stroke="#000" stroke-width="1.2" />
<line x1="540.60" y1="245.80" x2="537.00" y2="245.80" stroke="#000" stroke-width="1.2" />
<line x1="316.90" y1="401.80" x2="318.90" y2="401.80" stroke="#000" stroke-width="1.2" />
<line x1="540.60" y1="401.80" x2="538.60" y2="401.80" stroke="#000" stroke-width="1.2" />
<line x1="316.90" y1="377.80" x2="318.90" y2="377.80" stroke="#000" stroke-width="1.2" />
<line x1="540.60" y1="377.80" x2="538.60" y2="377.80" stroke="#000" stroke-width="1.2" />
<line x1="316.90" y1="353.80" x2="318.90" y2="353.80" stroke="#000" stroke-width="1.2" />
<line x1="540.60" y1="353.80" x2="538.60" y2="353.80" stroke="#000" stroke-width="1.2" />
<line x1="316.90" y1="329.80" x2="318.90" y2="329.80" stroke="#000" stroke-width="1.2" />
<line x1="540.60" y1="329.80" x2="538.60" y2="329.80" stroke="#000" stroke-width="1.2" />
<line x1="316.90" y1="305.80" x2="318.90" y2="305.80" stroke="#000" stroke-width="1.2" />
<line x1="540.60" y1="305.80" x2="538.60" y2="305.80" stroke="#000" stroke-width="1.2" />
<line x1="316.90" y1="281.80" x2="318.90" y2="281.80" stroke="#000" stroke-width="1.2" />
<line x1="540.60" y1="281.80" x2="538.60" y2="281.80" stroke="#000" stroke-width="1.2" />
<line x1="316.90" y1="257.80" x2="318.90" y2="257.80" stroke="#000" stroke-width="1.2" />
<line x1="540.60" y1="257.80" x2="538.60" y2="257.80" stroke="#000" stroke-width="1.2" />
<text x="312.30" y="418.00" font-size="11.7" text-anchor="end" font-weight="bold" font-style="normal" fill="#000" >0.68</text>
<text x="312.30" y="394.00" font-size="11.7" text-anchor="end" font-weight="bold" font-style="normal" fill="#000" >0.69</text>
<text x="312.30" y="370.00" font-size="11.7" text-anchor="end" font-weight="bold" font-style="normal" fill="#000" >0.70</text>
<text x="312.30" y="346.00" font-size="11.7" text-anchor="end" font-weight="bold" font-style="normal" fill="#000" >0.71</text>
<text x="312.30" y="322.00" font-size="11.7" text-anchor="end" font-weight="bold" font-style="normal" fill="#000" >0.72</text>
<text x="312.30" y="298.00" font-size="11.7" text-anchor="end" font-weight="bold" font-style="normal" fill="#000" >0.73</text>
<text x="312.30" y="274.00" font-size="11.7" text-anchor="end" font-weight="bold" font-style="normal" fill="#000" >0.74</text>
<text x="312.30" y="250.00" font-size="11.7" text-anchor="end" font-weight="bold" font-style="normal" fill="#000" >0.75</text>
<text x="424.30" y="445.10" font-size="13.5" text-anchor="middle" font-weight="bold" font-style="normal" fill="#000" >Pattern digits</text>
<text transform="translate(276.7,326.8) rotate(-90)" font-size="12.4" text-anchor="middle" font-weight="bold">V<tspan font-size="9.2" dy="5">th,avg</tspan></text>
<rect x="361.50" y="245.30" width="24.30" height="12.00" fill="#0000FF" stroke="#0000B0" stroke-width="0.4" rx="0" />
<text x="388.8" y="254.6" font-size="10.9" font-weight="bold">V<tspan font-size="7.6" dy="2.2">th,avg</tspan><tspan dy="-2.2"> of output neurons</tspan></text>
<text x="6.00" y="457.50" font-size="13.1" text-anchor="start" font-weight="bold" font-style="normal" fill="#000" >(e)</text>
<path d="M66.68,602.84 L87.06,580.92 L127.82,568.31 L168.58,562.83 L250.10,560.64" fill="none" stroke="#000" stroke-width="1.8" />
<line x1="66.68" y1="588.86" x2="66.68" y2="616.81" stroke="#000" stroke-width="1.7" />
<line x1="62.58" y1="588.86" x2="70.78" y2="588.86" stroke="#000" stroke-width="1.7" />
<line x1="62.58" y1="616.81" x2="70.78" y2="616.81" stroke="#000" stroke-width="1.7" />
<rect x="63.93" y="600.09" width="5.50" height="5.50" fill="#fff" stroke="#000" stroke-width="1.7" rx="0" />
<line x1="87.06" y1="567.22" x2="87.06" y2="594.62" stroke="#000" stroke-width="1.7" />
<line x1="82.96" y1="567.22" x2="91.16" y2="567.22" stroke="#000" stroke-width="1.7" />
<line x1="82.96" y1="594.62" x2="91.16" y2="594.62" stroke="#000" stroke-width="1.7" />
<rect x="84.31" y="578.17" width="5.50" height="5.50" fill="#fff" stroke="#000" stroke-width="1.7" rx="0" />
<line x1="127.82" y1="558.45" x2="127.82" y2="578.18" stroke="#000" stroke-width="1.7" />
<line x1="123.72" y1="558.45" x2="131.92" y2="558.45" stroke="#000" stroke-width="1.7" />
<line x1="123.72" y1="578.18" x2="131.92" y2="578.18" stroke="#000" stroke-width="1.7" />
<rect x="125.07" y="565.56" width="5.50" height="5.50" fill="#fff" stroke="#000" stroke-width="1.7" rx="0" />
<line x1="168.58" y1="556.26" x2="168.58" y2="569.41" stroke="#000" stroke-width="1.7" />
<line x1="164.48" y1="556.26" x2="172.68" y2="556.26" stroke="#000" stroke-width="1.7" />
<line x1="164.48" y1="569.41" x2="172.68" y2="569.41" stroke="#000" stroke-width="1.7" />
<rect x="165.83" y="560.08" width="5.50" height="5.50" fill="#fff" stroke="#000" stroke-width="1.7" rx="0" />
<line x1="250.10" y1="552.42" x2="250.10" y2="568.86" stroke="#000" stroke-width="1.7" />
<line x1="246.00" y1="552.42" x2="254.20" y2="552.42" stroke="#000" stroke-width="1.7" />
<line x1="246.00" y1="568.86" x2="254.20" y2="568.86" stroke="#000" stroke-width="1.7" />
<rect x="247.35" y="557.89" width="5.50" height="5.50" fill="#fff" stroke="#000" stroke-width="1.7" rx="0" />
<path d="M66.68,566.67 L87.06,539.82 L127.82,523.92 L168.58,519.54 L250.10,516.80" fill="none" stroke="#FF0000" stroke-width="1.8" />
<line x1="66.68" y1="555.16" x2="66.68" y2="578.18" stroke="#FF0000" stroke-width="1.7" />
<line x1="62.58" y1="555.16" x2="70.78" y2="555.16" stroke="#FF0000" stroke-width="1.7" />
<line x1="62.58" y1="578.18" x2="70.78" y2="578.18" stroke="#FF0000" stroke-width="1.7" />
<circle cx="66.68" cy="566.67" r="3.00" fill="#fff" stroke="#FF0000" stroke-width="1.7"/>
<line x1="87.06" y1="534.88" x2="87.06" y2="544.75" stroke="#FF0000" stroke-width="1.7" />
<line x1="82.96" y1="534.88" x2="91.16" y2="534.88" stroke="#FF0000" stroke-width="1.7" />
<line x1="82.96" y1="544.75" x2="91.16" y2="544.75" stroke="#FF0000" stroke-width="1.7" />
<circle cx="87.06" cy="539.82" r="3.00" fill="#fff" stroke="#FF0000" stroke-width="1.7"/>
<line x1="127.82" y1="520.64" x2="127.82" y2="527.21" stroke="#FF0000" stroke-width="1.7" />
<line x1="123.72" y1="520.64" x2="131.92" y2="520.64" stroke="#FF0000" stroke-width="1.7" />
<line x1="123.72" y1="527.21" x2="131.92" y2="527.21" stroke="#FF0000" stroke-width="1.7" />
<circle cx="127.82" cy="523.92" r="3.00" fill="#fff" stroke="#FF0000" stroke-width="1.7"/>
<line x1="168.58" y1="517.35" x2="168.58" y2="521.73" stroke="#FF0000" stroke-width="1.7" />
<line x1="164.48" y1="517.35" x2="172.68" y2="517.35" stroke="#FF0000" stroke-width="1.7" />
<line x1="164.48" y1="521.73" x2="172.68" y2="521.73" stroke="#FF0000" stroke-width="1.7" />
<circle cx="168.58" cy="519.54" r="3.00" fill="#fff" stroke="#FF0000" stroke-width="1.7"/>
<line x1="250.10" y1="514.61" x2="250.10" y2="518.99" stroke="#FF0000" stroke-width="1.7" />
<line x1="246.00" y1="514.61" x2="254.20" y2="514.61" stroke="#FF0000" stroke-width="1.7" />
<line x1="246.00" y1="518.99" x2="254.20" y2="518.99" stroke="#FF0000" stroke-width="1.7" />
<circle cx="250.10" cy="516.80" r="3.00" fill="#fff" stroke="#FF0000" stroke-width="1.7"/>
<rect x="46.30" y="475.70" width="224.30" height="164.40" fill="none" stroke="#000" stroke-width="1.5" rx="0" />
<line x1="87.06" y1="640.10" x2="87.06" y2="636.80" stroke="#000" stroke-width="1.2" />
<line x1="87.06" y1="475.70" x2="87.06" y2="479.00" stroke="#000" stroke-width="1.2" />
<line x1="127.82" y1="640.10" x2="127.82" y2="636.80" stroke="#000" stroke-width="1.2" />
<line x1="127.82" y1="475.70" x2="127.82" y2="479.00" stroke="#000" stroke-width="1.2" />
<line x1="168.58" y1="640.10" x2="168.58" y2="636.80" stroke="#000" stroke-width="1.2" />
<line x1="168.58" y1="475.70" x2="168.58" y2="479.00" stroke="#000" stroke-width="1.2" />
<line x1="209.34" y1="640.10" x2="209.34" y2="636.80" stroke="#000" stroke-width="1.2" />
<line x1="209.34" y1="475.70" x2="209.34" y2="479.00" stroke="#000" stroke-width="1.2" />
<line x1="250.10" y1="640.10" x2="250.10" y2="636.80" stroke="#000" stroke-width="1.2" />
<line x1="250.10" y1="475.70" x2="250.10" y2="479.00" stroke="#000" stroke-width="1.2" />
<line x1="66.68" y1="640.10" x2="66.68" y2="638.20" stroke="#000" stroke-width="1.2" />
<line x1="66.68" y1="475.70" x2="66.68" y2="477.60" stroke="#000" stroke-width="1.2" />
<line x1="107.44" y1="640.10" x2="107.44" y2="638.20" stroke="#000" stroke-width="1.2" />
<line x1="107.44" y1="475.70" x2="107.44" y2="477.60" stroke="#000" stroke-width="1.2" />
<line x1="148.20" y1="640.10" x2="148.20" y2="638.20" stroke="#000" stroke-width="1.2" />
<line x1="148.20" y1="475.70" x2="148.20" y2="477.60" stroke="#000" stroke-width="1.2" />
<line x1="188.96" y1="640.10" x2="188.96" y2="638.20" stroke="#000" stroke-width="1.2" />
<line x1="188.96" y1="475.70" x2="188.96" y2="477.60" stroke="#000" stroke-width="1.2" />
<line x1="229.72" y1="640.10" x2="229.72" y2="638.20" stroke="#000" stroke-width="1.2" />
<line x1="229.72" y1="475.70" x2="229.72" y2="477.60" stroke="#000" stroke-width="1.2" />
<line x1="46.30" y1="612.70" x2="49.60" y2="612.70" stroke="#000" stroke-width="1.2" />
<line x1="270.60" y1="612.70" x2="267.30" y2="612.70" stroke="#000" stroke-width="1.2" />
<line x1="46.30" y1="585.30" x2="49.60" y2="585.30" stroke="#000" stroke-width="1.2" />
<line x1="270.60" y1="585.30" x2="267.30" y2="585.30" stroke="#000" stroke-width="1.2" />
<line x1="46.30" y1="557.90" x2="49.60" y2="557.90" stroke="#000" stroke-width="1.2" />
<line x1="270.60" y1="557.90" x2="267.30" y2="557.90" stroke="#000" stroke-width="1.2" />
<line x1="46.30" y1="530.50" x2="49.60" y2="530.50" stroke="#000" stroke-width="1.2" />
<line x1="270.60" y1="530.50" x2="267.30" y2="530.50" stroke="#000" stroke-width="1.2" />
<line x1="46.30" y1="503.10" x2="49.60" y2="503.10" stroke="#000" stroke-width="1.2" />
<line x1="270.60" y1="503.10" x2="267.30" y2="503.10" stroke="#000" stroke-width="1.2" />
<line x1="46.30" y1="626.40" x2="48.20" y2="626.40" stroke="#000" stroke-width="1.2" />
<line x1="270.60" y1="626.40" x2="268.70" y2="626.40" stroke="#000" stroke-width="1.2" />
<line x1="46.30" y1="599.00" x2="48.20" y2="599.00" stroke="#000" stroke-width="1.2" />
<line x1="270.60" y1="599.00" x2="268.70" y2="599.00" stroke="#000" stroke-width="1.2" />
<line x1="46.30" y1="571.60" x2="48.20" y2="571.60" stroke="#000" stroke-width="1.2" />
<line x1="270.60" y1="571.60" x2="268.70" y2="571.60" stroke="#000" stroke-width="1.2" />
<line x1="46.30" y1="544.20" x2="48.20" y2="544.20" stroke="#000" stroke-width="1.2" />
<line x1="270.60" y1="544.20" x2="268.70" y2="544.20" stroke="#000" stroke-width="1.2" />
<line x1="46.30" y1="516.80" x2="48.20" y2="516.80" stroke="#000" stroke-width="1.2" />
<line x1="270.60" y1="516.80" x2="268.70" y2="516.80" stroke="#000" stroke-width="1.2" />
<line x1="46.30" y1="489.40" x2="48.20" y2="489.40" stroke="#000" stroke-width="1.2" />
<line x1="270.60" y1="489.40" x2="268.70" y2="489.40" stroke="#000" stroke-width="1.2" />
<text x="43.00" y="643.90" font-size="10.6" text-anchor="end" font-weight="bold" font-style="normal" fill="#000" >70</text>
<text x="43.00" y="616.50" font-size="10.6" text-anchor="end" font-weight="bold" font-style="normal" fill="#000" >75</text>
<text x="43.00" y="589.10" font-size="10.6" text-anchor="end" font-weight="bold" font-style="normal" fill="#000" >80</text>
<text x="43.00" y="561.70" font-size="10.6" text-anchor="end" font-weight="bold" font-style="normal" fill="#000" >85</text>
<text x="43.00" y="534.30" font-size="10.6" text-anchor="end" font-weight="bold" font-style="normal" fill="#000" >90</text>
<text x="43.00" y="506.90" font-size="10.6" text-anchor="end" font-weight="bold" font-style="normal" fill="#000" >95</text>
<text x="43.00" y="478.50" font-size="10.6" text-anchor="end" font-weight="bold" font-style="normal" fill="#000" >100</text>
<text x="46.30" y="652.40" font-size="10.2" text-anchor="middle" font-weight="bold" font-style="normal" fill="#000" >0</text>
<text x="87.06" y="652.40" font-size="10.2" text-anchor="middle" font-weight="bold" font-style="normal" fill="#000" >100</text>
<text x="127.82" y="652.40" font-size="10.2" text-anchor="middle" font-weight="bold" font-style="normal" fill="#000" >200</text>
<text x="168.58" y="652.40" font-size="10.2" text-anchor="middle" font-weight="bold" font-style="normal" fill="#000" >300</text>
<text x="209.34" y="652.40" font-size="10.2" text-anchor="middle" font-weight="bold" font-style="normal" fill="#000" >400</text>
<text x="250.10" y="652.40" font-size="10.2" text-anchor="middle" font-weight="bold" font-style="normal" fill="#000" >500</text>
<text x="158.30" y="671.20" font-size="14.4" text-anchor="middle" font-weight="bold" font-style="normal" fill="#000" >Number of output neurons (#)</text>
<text transform="translate(18.7,558) rotate(-90)" font-size="14.4" text-anchor="middle" font-weight="bold">Recognition rate (%)</text>
<line x1="56.30" y1="491.80" x2="63.45" y2="491.80" stroke="#000" stroke-width="1.9" />
<line x1="71.65" y1="491.80" x2="78.80" y2="491.80" stroke="#000" stroke-width="1.9" />
<rect x="65.15" y="489.40" width="4.80" height="4.80" fill="#fff" stroke="#000" stroke-width="1.6" rx="0" />
<text x="81.80" y="494.50" font-size="9.6" text-anchor="start" font-weight="bold" font-style="normal" fill="#000" >w/o homeostasis</text>
<line x1="56.30" y1="504.20" x2="63.45" y2="504.20" stroke="#FF0000" stroke-width="1.9" />
<line x1="71.65" y1="504.20" x2="78.80" y2="504.20" stroke="#FF0000" stroke-width="1.9" />
<circle cx="67.55" cy="504.20" r="2.70" fill="#fff" stroke="#FF0000" stroke-width="1.6"/>
<text x="81.80" y="506.90" font-size="9.6" text-anchor="start" font-weight="bold" font-style="normal" fill="#000" >w homeostasis</text>
<text x="271.50" y="457.50" font-size="13" text-anchor="start" font-weight="bold" font-style="normal" fill="#000" >(f)</text>
<path d="M334.60,530.84 L366.45,551.80 L398.30,583.91 L430.15,586.20 L462.00,584.89 L493.85,589.80 L525.70,613.39" fill="none" stroke="#000" stroke-width="1.8" />
<line x1="334.60" y1="524.94" x2="334.60" y2="536.73" stroke="#000" stroke-width="1.7" />
<line x1="330.50" y1="524.94" x2="338.70" y2="524.94" stroke="#000" stroke-width="1.7" />
<line x1="330.50" y1="536.73" x2="338.70" y2="536.73" stroke="#000" stroke-width="1.7" />
<rect x="331.85" y="528.09" width="5.50" height="5.50" fill="#fff" stroke="#000" stroke-width="1.7" rx="0" />
<line x1="366.45" y1="548.53" x2="366.45" y2="555.08" stroke="#000" stroke-width="1.7" />
<line x1="362.35" y1="548.53" x2="370.55" y2="548.53" stroke="#000" stroke-width="1.7" />
<line x1="362.35" y1="555.08" x2="370.55" y2="555.08" stroke="#000" stroke-width="1.7" />
<rect x="363.70" y="549.05" width="5.50" height="5.50" fill="#fff" stroke="#000" stroke-width="1.7" rx="0" />
<line x1="398.30" y1="578.99" x2="398.30" y2="588.82" stroke="#000" stroke-width="1.7" />
<line x1="394.20" y1="578.99" x2="402.40" y2="578.99" stroke="#000" stroke-width="1.7" />
<line x1="394.20" y1="588.82" x2="402.40" y2="588.82" stroke="#000" stroke-width="1.7" />
<rect x="395.55" y="581.16" width="5.50" height="5.50" fill="#fff" stroke="#000" stroke-width="1.7" rx="0" />
<line x1="430.15" y1="580.30" x2="430.15" y2="592.10" stroke="#000" stroke-width="1.7" />
<line x1="426.05" y1="580.30" x2="434.25" y2="580.30" stroke="#000" stroke-width="1.7" />
<line x1="426.05" y1="592.10" x2="434.25" y2="592.10" stroke="#000" stroke-width="1.7" />
<rect x="427.40" y="583.45" width="5.50" height="5.50" fill="#fff" stroke="#000" stroke-width="1.7" rx="0" />
<line x1="462.00" y1="579.32" x2="462.00" y2="590.46" stroke="#000" stroke-width="1.7" />
<line x1="457.90" y1="579.32" x2="466.10" y2="579.32" stroke="#000" stroke-width="1.7" />
<line x1="457.90" y1="590.46" x2="466.10" y2="590.46" stroke="#000" stroke-width="1.7" />
<rect x="459.25" y="582.14" width="5.50" height="5.50" fill="#fff" stroke="#000" stroke-width="1.7" rx="0" />
<line x1="493.85" y1="584.56" x2="493.85" y2="595.05" stroke="#000" stroke-width="1.7" />
<line x1="489.75" y1="584.56" x2="497.95" y2="584.56" stroke="#000" stroke-width="1.7" />
<line x1="489.75" y1="595.05" x2="497.95" y2="595.05" stroke="#000" stroke-width="1.7" />
<rect x="491.10" y="587.05" width="5.50" height="5.50" fill="#fff" stroke="#000" stroke-width="1.7" rx="0" />
<line x1="525.70" y1="607.50" x2="525.70" y2="619.29" stroke="#000" stroke-width="1.7" />
<line x1="521.60" y1="607.50" x2="529.80" y2="607.50" stroke="#000" stroke-width="1.7" />
<line x1="521.60" y1="619.29" x2="529.80" y2="619.29" stroke="#000" stroke-width="1.7" />
<rect x="522.95" y="610.64" width="5.50" height="5.50" fill="#fff" stroke="#000" stroke-width="1.7" rx="0" />
<path d="M334.60,504.30 L366.45,505.94 L398.30,506.59 L430.15,511.18 L462.00,513.15 L493.85,517.08 L525.70,517.73" fill="none" stroke="#FF0000" stroke-width="1.8" />
<line x1="334.60" y1="502.66" x2="334.60" y2="505.94" stroke="#FF0000" stroke-width="1.7" />
<line x1="330.50" y1="502.66" x2="338.70" y2="502.66" stroke="#FF0000" stroke-width="1.7" />
<line x1="330.50" y1="505.94" x2="338.70" y2="505.94" stroke="#FF0000" stroke-width="1.7" />
<circle cx="334.60" cy="504.30" r="3.00" fill="#fff" stroke="#FF0000" stroke-width="1.7"/>
<line x1="366.45" y1="503.97" x2="366.45" y2="507.90" stroke="#FF0000" stroke-width="1.7" />
<line x1="362.35" y1="503.97" x2="370.55" y2="503.97" stroke="#FF0000" stroke-width="1.7" />
<line x1="362.35" y1="507.90" x2="370.55" y2="507.90" stroke="#FF0000" stroke-width="1.7" />
<circle cx="366.45" cy="505.94" r="3.00" fill="#fff" stroke="#FF0000" stroke-width="1.7"/>
<line x1="398.30" y1="503.32" x2="398.30" y2="509.87" stroke="#FF0000" stroke-width="1.7" />
<line x1="394.20" y1="503.32" x2="402.40" y2="503.32" stroke="#FF0000" stroke-width="1.7" />
<line x1="394.20" y1="509.87" x2="402.40" y2="509.87" stroke="#FF0000" stroke-width="1.7" />
<circle cx="398.30" cy="506.59" r="3.00" fill="#fff" stroke="#FF0000" stroke-width="1.7"/>
<line x1="430.15" y1="508.89" x2="430.15" y2="513.47" stroke="#FF0000" stroke-width="1.7" />
<line x1="426.05" y1="508.89" x2="434.25" y2="508.89" stroke="#FF0000" stroke-width="1.7" />
<line x1="426.05" y1="513.47" x2="434.25" y2="513.47" stroke="#FF0000" stroke-width="1.7" />
<circle cx="430.15" cy="511.18" r="3.00" fill="#fff" stroke="#FF0000" stroke-width="1.7"/>
<line x1="462.00" y1="511.18" x2="462.00" y2="515.11" stroke="#FF0000" stroke-width="1.7" />
<line x1="457.90" y1="511.18" x2="466.10" y2="511.18" stroke="#FF0000" stroke-width="1.7" />
<line x1="457.90" y1="515.11" x2="466.10" y2="515.11" stroke="#FF0000" stroke-width="1.7" />
<circle cx="462.00" cy="513.15" r="3.00" fill="#fff" stroke="#FF0000" stroke-width="1.7"/>
<line x1="493.85" y1="515.11" x2="493.85" y2="519.04" stroke="#FF0000" stroke-width="1.7" />
<line x1="489.75" y1="515.11" x2="497.95" y2="515.11" stroke="#FF0000" stroke-width="1.7" />
<line x1="489.75" y1="519.04" x2="497.95" y2="519.04" stroke="#FF0000" stroke-width="1.7" />
<circle cx="493.85" cy="517.08" r="3.00" fill="#fff" stroke="#FF0000" stroke-width="1.7"/>
<line x1="525.70" y1="515.77" x2="525.70" y2="519.70" stroke="#FF0000" stroke-width="1.7" />
<line x1="521.60" y1="515.77" x2="529.80" y2="515.77" stroke="#FF0000" stroke-width="1.7" />
<line x1="521.60" y1="519.70" x2="529.80" y2="519.70" stroke="#FF0000" stroke-width="1.7" />
<circle cx="525.70" cy="517.73" r="3.00" fill="#fff" stroke="#FF0000" stroke-width="1.7"/>
<rect x="319.10" y="475.80" width="222.60" height="163.80" fill="none" stroke="#000" stroke-width="1.5" rx="0" />
<line x1="334.60" y1="639.60" x2="334.60" y2="636.30" stroke="#000" stroke-width="1.2" />
<line x1="334.60" y1="475.80" x2="334.60" y2="479.10" stroke="#000" stroke-width="1.2" />
<line x1="398.30" y1="639.60" x2="398.30" y2="636.30" stroke="#000" stroke-width="1.2" />
<line x1="398.30" y1="475.80" x2="398.30" y2="479.10" stroke="#000" stroke-width="1.2" />
<line x1="462.00" y1="639.60" x2="462.00" y2="636.30" stroke="#000" stroke-width="1.2" />
<line x1="462.00" y1="475.80" x2="462.00" y2="479.10" stroke="#000" stroke-width="1.2" />
<line x1="525.70" y1="639.60" x2="525.70" y2="636.30" stroke="#000" stroke-width="1.2" />
<line x1="525.70" y1="475.80" x2="525.70" y2="479.10" stroke="#000" stroke-width="1.2" />
<line x1="366.45" y1="639.60" x2="366.45" y2="637.70" stroke="#000" stroke-width="1.2" />
<line x1="366.45" y1="475.80" x2="366.45" y2="477.70" stroke="#000" stroke-width="1.2" />
<line x1="430.15" y1="639.60" x2="430.15" y2="637.70" stroke="#000" stroke-width="1.2" />
<line x1="430.15" y1="475.80" x2="430.15" y2="477.70" stroke="#000" stroke-width="1.2" />
<line x1="493.85" y1="639.60" x2="493.85" y2="637.70" stroke="#000" stroke-width="1.2" />
<line x1="493.85" y1="475.80" x2="493.85" y2="477.70" stroke="#000" stroke-width="1.2" />
<line x1="319.10" y1="623.22" x2="322.40" y2="623.22" stroke="#000" stroke-width="1.2" />
<line x1="541.70" y1="623.22" x2="538.40" y2="623.22" stroke="#000" stroke-width="1.2" />
<line x1="319.10" y1="606.84" x2="322.40" y2="606.84" stroke="#000" stroke-width="1.2" />
<line x1="541.70" y1="606.84" x2="538.40" y2="606.84" stroke="#000" stroke-width="1.2" />
<line x1="319.10" y1="590.46" x2="322.40" y2="590.46" stroke="#000" stroke-width="1.2" />
<line x1="541.70" y1="590.46" x2="538.40" y2="590.46" stroke="#000" stroke-width="1.2" />
<line x1="319.10" y1="574.08" x2="322.40" y2="574.08" stroke="#000" stroke-width="1.2" />
<line x1="541.70" y1="574.08" x2="538.40" y2="574.08" stroke="#000" stroke-width="1.2" />
<line x1="319.10" y1="557.70" x2="322.40" y2="557.70" stroke="#000" stroke-width="1.2" />
<line x1="541.70" y1="557.70" x2="538.40" y2="557.70" stroke="#000" stroke-width="1.2" />
<line x1="319.10" y1="541.32" x2="322.40" y2="541.32" stroke="#000" stroke-width="1.2" />
<line x1="541.70" y1="541.32" x2="538.40" y2="541.32" stroke="#000" stroke-width="1.2" />
<line x1="319.10" y1="524.94" x2="322.40" y2="524.94" stroke="#000" stroke-width="1.2" />
<line x1="541.70" y1="524.94" x2="538.40" y2="524.94" stroke="#000" stroke-width="1.2" />
<line x1="319.10" y1="508.56" x2="322.40" y2="508.56" stroke="#000" stroke-width="1.2" />
<line x1="541.70" y1="508.56" x2="538.40" y2="508.56" stroke="#000" stroke-width="1.2" />
<line x1="319.10" y1="492.18" x2="322.40" y2="492.18" stroke="#000" stroke-width="1.2" />
<line x1="541.70" y1="492.18" x2="538.40" y2="492.18" stroke="#000" stroke-width="1.2" />
<line x1="319.10" y1="631.41" x2="321.00" y2="631.41" stroke="#000" stroke-width="1.2" />
<line x1="541.70" y1="631.41" x2="539.80" y2="631.41" stroke="#000" stroke-width="1.2" />
<line x1="319.10" y1="615.03" x2="321.00" y2="615.03" stroke="#000" stroke-width="1.2" />
<line x1="541.70" y1="615.03" x2="539.80" y2="615.03" stroke="#000" stroke-width="1.2" />
<line x1="319.10" y1="598.65" x2="321.00" y2="598.65" stroke="#000" stroke-width="1.2" />
<line x1="541.70" y1="598.65" x2="539.80" y2="598.65" stroke="#000" stroke-width="1.2" />
<line x1="319.10" y1="582.27" x2="321.00" y2="582.27" stroke="#000" stroke-width="1.2" />
<line x1="541.70" y1="582.27" x2="539.80" y2="582.27" stroke="#000" stroke-width="1.2" />
<line x1="319.10" y1="565.89" x2="321.00" y2="565.89" stroke="#000" stroke-width="1.2" />
<line x1="541.70" y1="565.89" x2="539.80" y2="565.89" stroke="#000" stroke-width="1.2" />
<line x1="319.10" y1="549.51" x2="321.00" y2="549.51" stroke="#000" stroke-width="1.2" />
<line x1="541.70" y1="549.51" x2="539.80" y2="549.51" stroke="#000" stroke-width="1.2" />
<line x1="319.10" y1="533.13" x2="321.00" y2="533.13" stroke="#000" stroke-width="1.2" />
<line x1="541.70" y1="533.13" x2="539.80" y2="533.13" stroke="#000" stroke-width="1.2" />
<line x1="319.10" y1="516.75" x2="321.00" y2="516.75" stroke="#000" stroke-width="1.2" />
<line x1="541.70" y1="516.75" x2="539.80" y2="516.75" stroke="#000" stroke-width="1.2" />
<line x1="319.10" y1="500.37" x2="321.00" y2="500.37" stroke="#000" stroke-width="1.2" />
<line x1="541.70" y1="500.37" x2="539.80" y2="500.37" stroke="#000" stroke-width="1.2" />
<line x1="319.10" y1="483.99" x2="321.00" y2="483.99" stroke="#000" stroke-width="1.2" />
<line x1="541.70" y1="483.99" x2="539.80" y2="483.99" stroke="#000" stroke-width="1.2" />
<text x="315.30" y="642.60" font-size="10.6" text-anchor="end" font-weight="bold" font-style="normal" fill="#000" >50</text>
<text x="315.30" y="627.02" font-size="10.6" text-anchor="end" font-weight="bold" font-style="normal" fill="#000" >55</text>
<text x="315.30" y="610.64" font-size="10.6" text-anchor="end" font-weight="bold" font-style="normal" fill="#000" >60</text>
<text x="315.30" y="594.26" font-size="10.6" text-anchor="end" font-weight="bold" font-style="normal" fill="#000" >65</text>
<text x="315.30" y="577.88" font-size="10.6" text-anchor="end" font-weight="bold" font-style="normal" fill="#000" >70</text>
<text x="315.30" y="561.50" font-size="10.6" text-anchor="end" font-weight="bold" font-style="normal" fill="#000" >75</text>
<text x="315.30" y="545.12" font-size="10.6" text-anchor="end" font-weight="bold" font-style="normal" fill="#000" >80</text>
<text x="315.30" y="528.74" font-size="10.6" text-anchor="end" font-weight="bold" font-style="normal" fill="#000" >85</text>
<text x="315.30" y="512.36" font-size="10.6" text-anchor="end" font-weight="bold" font-style="normal" fill="#000" >90</text>
<text x="315.30" y="495.98" font-size="10.6" text-anchor="end" font-weight="bold" font-style="normal" fill="#000" >95</text>
<text x="315.30" y="479.60" font-size="10.6" text-anchor="end" font-weight="bold" font-style="normal" fill="#000" >100</text>
<text x="334.60" y="652.40" font-size="10.2" text-anchor="middle" font-weight="bold" font-style="normal" fill="#000" >0.0</text>
<text x="398.30" y="652.40" font-size="10.2" text-anchor="middle" font-weight="bold" font-style="normal" fill="#000" >0.2</text>
<text x="462.00" y="652.40" font-size="10.2" text-anchor="middle" font-weight="bold" font-style="normal" fill="#000" >0.4</text>
<text x="525.70" y="652.40" font-size="10.2" text-anchor="middle" font-weight="bold" font-style="normal" fill="#000" >0.6</text>
<text x="430.30" y="671.50" font-size="14.4" text-anchor="middle" font-weight="bold" font-style="normal" fill="#000" >Variation of synaptic devices (σ/μ)</text>
<text transform="translate(291.8,557) rotate(-90)" font-size="14.4" text-anchor="middle" font-weight="bold">Recognition rate (%)</text>
<text x="325.30" y="489.60" font-size="9.4" text-anchor="start" font-weight="bold" font-style="normal" fill="#000" >Output neurons : 200</text>
<line x1="433.70" y1="486.50" x2="442.75" y2="486.50" stroke="#000" stroke-width="1.9" />
<line x1="447.55" y1="486.50" x2="456.60" y2="486.50" stroke="#000" stroke-width="1.9" />
<rect x="442.75" y="484.10" width="4.80" height="4.80" fill="#fff" stroke="#000" stroke-width="1.6" rx="0" />
<text x="458.80" y="489.20" font-size="9.6" text-anchor="start" font-weight="bold" font-style="normal" fill="#000" >w/o homeostasis</text>
<line x1="433.70" y1="498.70" x2="442.75" y2="498.70" stroke="#FF0000" stroke-width="1.9" />
<line x1="447.55" y1="498.70" x2="456.60" y2="498.70" stroke="#FF0000" stroke-width="1.9" />
<circle cx="445.15" cy="498.70" r="2.70" fill="#fff" stroke="#FF0000" stroke-width="1.6"/>
<text x="458.80" y="501.40" font-size="9.6" text-anchor="start" font-weight="bold" font-style="normal" fill="#000" >w homeostasis</text>
<text x="326.60" y="608.20" font-size="9.45" text-anchor="start" font-weight="bold" font-style="normal" fill="#000" >Conductance variation</text>
<text x="332.80" y="620.40" font-size="9.3" text-anchor="start" font-weight="bold" font-style="normal" fill="#000" >- Device-to-device (D-to-D)</text>
<text x="332.80" y="632.10" font-size="9.45" text-anchor="start" font-weight="bold" font-style="normal" fill="#000" >- Pulse-to-pulse (P-to-P)</text>
</svg>
</body></html>
